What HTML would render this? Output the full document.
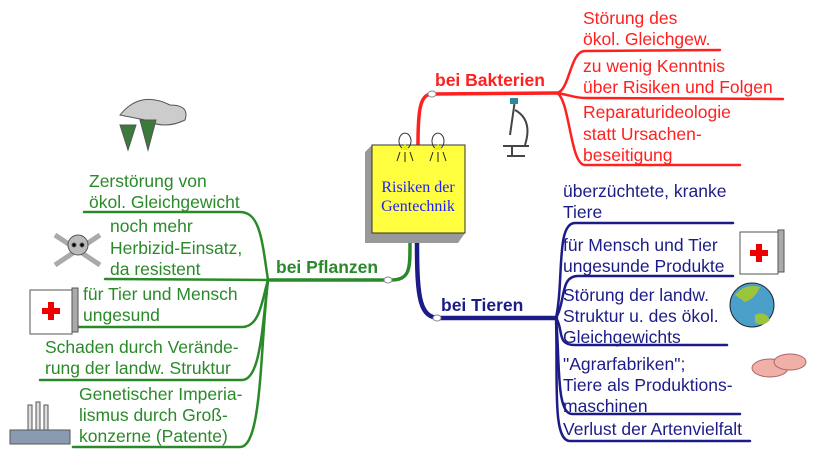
<!DOCTYPE html>
<html><head><meta charset="utf-8"><style>
html,body{margin:0;padding:0;background:#fff;}
svg text{font-family:"Liberation Sans",Arial,sans-serif;font-size:17.5px;}
.r{fill:#ff2020}.b{fill:#1c1c88}.g{fill:#2a8a2a}
</style></head><body>
<svg width="831" height="470" viewBox="0 0 831 470" xmlns="http://www.w3.org/2000/svg">
<g fill="none" stroke-linecap="round">
<g stroke="#ff2020" stroke-width="2.5">
<path d="M418 145 C418 110 420 94 432 94 L557 93" stroke-width="3.5"/>
<path d="M557 93 C570 90 570 51 585 51 L720 50"/>
<path d="M557 93 C570 95 575 98 585 98 L783 99"/>
<path d="M557 93 C570 100 570 165 585 165 L740 165"/>
</g>
<g stroke="#1c1c88" stroke-width="2.5">
<path d="M417 243 C417 300 420 318 440 318 L556 318" stroke-width="4.5"/>
<path d="M556 318 C564 280 556 223 575 223 L733 223"/>
<path d="M556 318 C566 300 560 276 578 276 L733 276"/>
<path d="M556 318 C564 330 556 345 575 345 L727 345"/>
<path d="M556 318 C560 360 556 414 572 414 L740 414"/>
<path d="M556 318 C558 380 552 441 570 441 L750 441"/>
</g>
<g stroke="#2a8a2a" stroke-width="2.5">
<path d="M410 243 C410 270 410 280 390 280 L270 280" stroke-width="3.5"/>
<path d="M268 280 C262 240 260 212 240 212 L84 212"/>
<path d="M268 280 L105 279"/>
<path d="M268 280 C262 300 260 327 242 327 L78 327"/>
<path d="M268 280 C262 330 260 380 242 380 L40 380"/>
<path d="M268 280 C260 350 262 447 240 447 L73 447"/>
</g>
</g>
<ellipse cx="432" cy="94" rx="4" ry="3" fill="#fff" stroke="#888"/>
<ellipse cx="437" cy="318" rx="4" ry="3" fill="#fff" stroke="#888"/>
<ellipse cx="388" cy="280" rx="4" ry="3" fill="#fff" stroke="#888"/>
<polygon points="372,145 365,152 365,243 458,243 465,233 372,233" fill="#999"/>
<rect x="372" y="145" width="93" height="88" fill="#ffff40" stroke="#333"/>
<path d="M402 148 a6 8 0 1 1 6 0 M435 148 a6 8 0 1 1 6 0" fill="none" stroke="#333"/>
<path d="M401 150 l8 0 l-4 -6z M434 150 l8 0 l-4 -6z" fill="#ee0"/>
<path d="M400 152 l-3 9 M405 152 v10 M410 152 l3 9 M433 152 l-3 9 M438 152 v10 M443 152 l3 9" stroke="#222"/>
<text x="418" y="192" text-anchor="middle" style="font-family:'Liberation Serif',serif;font-size:16px" fill="#2020ff">Risiken der</text>
<text x="418" y="211" text-anchor="middle" style="font-family:'Liberation Serif',serif;font-size:16px" fill="#2020ff">Gentechnik</text>
<text x="435" y="86" class="r" style="font-weight:bold">bei Bakterien</text>
<text x="441" y="311" class="b" style="font-weight:bold">bei Tieren</text>
<text x="276" y="273" class="g" style="font-weight:bold">bei Pflanzen</text>
<g class="r"><text x="583" y="24">Störung des</text><text x="583" y="45">ökol. Gleichgew.</text>
<text x="583" y="72">zu wenig Kenntnis</text><text x="583" y="93">über Risiken und Folgen</text>
<text x="583" y="118">Reparaturideologie</text><text x="583" y="140">statt Ursachen-</text><text x="583" y="161">beseitigung</text></g>
<g class="b"><text x="563" y="197">überzüchtete, kranke</text><text x="563" y="218">Tiere</text>
<text x="563" y="251">für Mensch und Tier</text><text x="563" y="272">ungesunde Produkte</text>
<text x="563" y="301">Störung der landw.</text><text x="563" y="322">Struktur u. des ökol.</text><text x="563" y="343">Gleichgewichts</text>
<text x="563" y="370">"Agrarfabriken";</text><text x="563" y="391">Tiere als Produktions-</text><text x="563" y="412">maschinen</text>
<text x="563" y="435">Verlust der Artenvielfalt</text></g>
<g class="g"><text x="89" y="187">Zerstörung von</text><text x="89" y="208">ökol. Gleichgewicht</text>
<text x="110" y="232">noch mehr</text><text x="110" y="254">Herbizid-Einsatz,</text><text x="110" y="275">da resistent</text>
<text x="83" y="300">für Tier und Mensch</text><text x="83" y="321">ungesund</text>
<text x="45" y="353">Schaden durch Verände-</text><text x="45" y="374">rung der landw. Struktur</text>
<text x="79" y="400">Genetischer Imperia-</text><text x="79" y="421">lismus durch Groß-</text><text x="79" y="442">konzerne (Patente)</text></g>
<g stroke="#555" fill="#ddd">
<path d="M120 115 q20 -25 50 -10 q20 0 15 15 q-20 10 -40 0z" fill="#ccc"/>
<path d="M120 125 l8 25 l8 -25z M140 120 l8 30 l8 -30z" fill="#3a7a3a"/>
<path d="M55 235 L100 265 M55 265 L100 235" stroke="#aaa" stroke-width="5"/>
<circle cx="78" cy="245" r="10" fill="#bbb"/>
<circle cx="74" cy="245" r="2" fill="#000"/><circle cx="82" cy="245" r="2" fill="#000"/>
<rect x="30" y="290" width="42" height="44" fill="#fff"/><rect x="72" y="288" width="6" height="44" fill="#aaa"/>
<path d="M42 308 h6 v-6 h6 v6 h6 v6 h-6 v6 h-6 v-6 h-6z" fill="#e00" stroke="none"/>
<rect x="10" y="430" width="60" height="14" fill="#8a9ab0"/><rect x="28" y="405" width="4" height="25"/><rect x="36" y="402" width="4" height="28"/><rect x="44" y="405" width="4" height="25"/>
<path d="M515 100 l-5 35 M515 110 q18 10 10 35 M503 146 h26 M507 156 h18 M512 146 v10" stroke="#444" fill="none" stroke-width="2"/>
<rect x="510" y="98" width="8" height="6" fill="#2a8aa0" stroke="none"/>
<rect x="740" y="232" width="38" height="42" fill="#fff"/><rect x="778" y="230" width="6" height="42" fill="#aaa"/>
<path d="M750 250 h6 v-6 h6 v6 h6 v6 h-6 v6 h-6 v-6 h-6z" fill="#e00" stroke="none"/>
<circle cx="752" cy="305" r="22" fill="#4aa0c8" stroke="#223"/><path d="M735 295 q10 -12 25 -8 q-5 12 -15 15z M755 315 q10 -5 15 5 q-8 8 -15 2z" fill="#9bc43a" stroke="none"/>
<g fill="#f0b0a8" stroke="#a66"><ellipse cx="770" cy="368" rx="18" ry="9"/><ellipse cx="790" cy="362" rx="16" ry="8"/></g>
</g>
</svg>
</body></html>
